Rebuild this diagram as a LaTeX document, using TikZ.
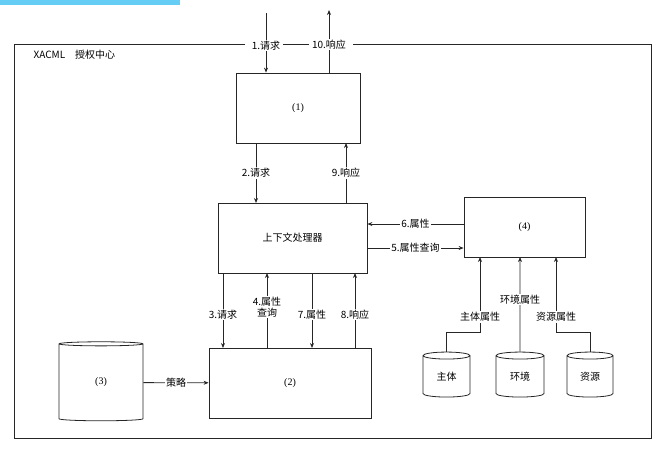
\documentclass[tikz,border=0pt]{standalone}
\usepackage{fontspec}
\setmainfont{Liberation Serif}
\newfontfamily\cjk{Noto Sans CJK SC}
\usetikzlibrary{arrows.meta}
\usetikzlibrary{positioning}
\usetikzlibrary{shapes.geometric}
\newcommand{\boxline}[0]{black!85}
\tikzset{
    blk/.style={rectangle, draw=\boxline, thick, inner sep=0pt},
    db/.style={cylinder, shape border rotate=90, draw=\boxline, thick, aspect=0.35, inner sep=0pt},
    lbl/.style={font=\cjk\fontsize{10}{11}\selectfont, inner sep=1pt, fill=white},
    arr/.style={-{Stealth[length=5pt,width=4pt]}, thick, draw=\boxline},
}
\begin{document}
\begin{tikzpicture}[x=1pt, y=-1pt]
    \useasboundingbox (0,0) rectangle (660,448);
    \fill[cyan!60] (0,0) rectangle (180,5);
    % frame
    \draw[thick, \boxline] (245,44) -- (14,44) -- (14,438) -- (651,438) -- (651,44) -- (353,44);
    \draw[thick, \boxline] (283,44) -- (309,44);
    \node[font=\cjk\fontsize{10}{11}\selectfont, anchor=west] (title) at (30,55) {XACML\quad 授权中心};
    % boxes
    \node[blk, minimum width=124pt, minimum height=70pt] (pep) at (298,108) {(1)};
    \node[blk, minimum width=149pt, minimum height=70pt] (ctx) at (292.5,238) {\cjk 上下文处理器};
    \node[blk, minimum width=121pt, minimum height=60pt] (pip) at (524.5,227) {(4)};
    \node[blk, minimum width=162pt, minimum height=70pt] (pdp) at (290,383) {(2)};
    \node[db, minimum width=84pt, minimum height=79pt] (pap) at (101,382.5) {(3)};
    \node[db, minimum width=47pt, minimum height=45pt] (subj) at (446.5,376.5) {\cjk 主体};
    \node[db, minimum width=48pt, minimum height=45pt] (env) at (520,376.5) {\cjk 环境};
    \node[db, minimum width=46pt, minimum height=45pt] (res) at (590,376.5) {\cjk 资源};
    % coordinates
    \coordinate (in) at (266,13);
    \coordinate (out) at (329,10);
    % request / response
    \draw[arr] (in) -- node[lbl, pos=0.55] {1.请求} (in |- pep.north);
    \draw[arr] (out |- pep.north) -- node[lbl, pos=0.45] {10.响应} (out);
    \draw[arr] (256,143) -- node[lbl] {2.请求} (256,203);
    \draw[arr] (346,203) -- node[lbl] {9.响应} (346,143);
    \draw[arr] (223,273) -- node[lbl, pos=0.55] {3.请求} (223,348);
    \draw[arr] (267,348) -- node[lbl, align=center, pos=0.55] {4.属性\\查询} (267,273);
    \draw[arr] (312,273) -- node[lbl, pos=0.55] {7.属性} (312,348);
    \draw[arr] (355,348) -- node[lbl, pos=0.45] {8.响应} (355,273);
    \draw[arr] (pip.west |- 0,224) -- node[lbl] {6.属性} (ctx.east |- 0,224);
    \draw[arr] (ctx.east |- 0,248) -- node[lbl] {5.属性查询} (pip.west |- 0,248);
    \draw[arr] (pap) -- node[lbl] {策略} (pdp);
    % attributes
    \draw[arr] (subj.north) |- (480,332) -- node[lbl, pos=0.2] {主体属性} (480,257);
    \draw[arr] (env.north) -- node[lbl, pos=0.55] {环境属性} (520,257);
    \draw[arr] (res.north) |- (556,332) -- node[lbl, pos=0.2] {资源属性} (556,257);
\end{tikzpicture}
\end{document}
